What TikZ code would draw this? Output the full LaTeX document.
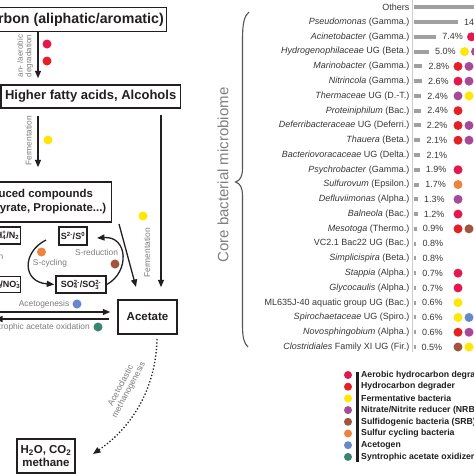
\documentclass[tikz,border=0pt]{standalone}
\usepackage{fontspec}
\setmainfont{Liberation Sans}
\usetikzlibrary{arrows.meta}
\definecolor{aero}{RGB}{226,24,78}
\definecolor{hcd}{RGB}{226,32,38}
\definecolor{ferm}{RGB}{255,232,0}
\definecolor{nrb}{RGB}{168,72,152}
\definecolor{srb}{RGB}{160,86,62}
\definecolor{sulf}{RGB}{236,132,62}
\definecolor{aceto}{RGB}{104,136,204}
\definecolor{synt}{RGB}{58,132,112}
\definecolor{lbl}{RGB}{125,125,125}
\definecolor{ink}{RGB}{35,31,32}
\definecolor{barc}{RGB}{160,160,160}
\definecolor{rowc}{RGB}{55,55,55}
\definecolor{legc}{RGB}{30,30,30}
\definecolor{corec}{RGB}{128,128,128}
\definecolor{bracec}{RGB}{85,85,85}
\definecolor{axisc}{RGB}{205,205,205}
\newcommand{\mysubsup}[2]{\rlap{\textsubscript{#1}}\textsuperscript{#2}}
\begin{document}
\begin{tikzpicture}[x=1pt,y=-1pt,
  box/.style={draw=ink, line width=1.5pt, fill=white, text=ink, inner ysep=0pt},
  arr/.style={draw=ink, line width=1.3pt, -{Triangle[length=7.5pt,width=6pt]}},
  glbl/.style={text=lbl, inner sep=0pt, font=\fontsize{8.4}{9}\selectfont},
  dot/.style={circle, inner sep=0pt, minimum size=9pt},
  ldot/.style={circle, inner sep=0pt, minimum size=8pt},
  rowlbl/.style={text=rowc, inner sep=0pt, font=\fontsize{9}{10}\selectfont},
  legl/.style={text=legc, inner sep=0pt, anchor=west, font=\bfseries\fontsize{8.7}{10}\selectfont}]
\useasboundingbox (0,0) rectangle (474,474);
\clip (0,0) rectangle (474,474);
\fill[white] (0,0) rectangle (474,474);
% helper coordinates
\coordinate (c38) at (38,0);
\coordinate (c161) at (161,0);
% boxes
\node[box, anchor=east, minimum height=24pt, inner xsep=2.5pt, font=\bfseries\fontsize{14.2}{16}\selectfont] (hc) at (167,19.5) {Hydrocarbon (aliphatic/aromatic)};
\node[box, anchor=east, minimum height=23pt, inner xsep=4pt, font=\bfseries\fontsize{13}{15}\selectfont] (hfa) at (181,96.5) {Higher fatty acids, Alcohols};
\node[box, anchor=east, minimum height=40pt, inner xsep=5pt, align=left, font=\bfseries\fontsize{11.4}{14}\selectfont] (rc) at (112,202) {Reduced compounds\\(Butyrate, Propionate...)};
\node[box, anchor=east, minimum height=17pt, inner xsep=1pt, font=\bfseries\fontsize{9}{10}\selectfont] (nh) at (21,235.5) {NH\mysubsup{4}{+}/N\textsubscript{2}};
\node[box, anchor=east, minimum height=16pt, inner xsep=1.5pt, font=\bfseries\fontsize{9}{10}\selectfont] (no) at (21,284.5) {NO\mysubsup{2}{-}/NO\mysubsup{3}{-}};
\node[box, minimum width=28pt, minimum height=18pt, inner xsep=1pt, font=\bfseries\fontsize{9}{10}\selectfont] (sb) at (73,236) {S\textsuperscript{2-}/S\textsuperscript{0}};
\node[box, minimum width=50pt, minimum height=17pt, inner xsep=1pt, font=\bfseries\fontsize{9}{10}\selectfont] (so) at (81,284.5) {SO\mysubsup{4}{2-}/SO\mysubsup{3}{2-}};
\node[box, minimum width=59pt, minimum height=34pt, font=\bfseries\fontsize{11.5}{13}\selectfont] (ac) at (147.5,317) {Acetate};
\node[box, minimum width=58pt, minimum height=34pt, align=center, font=\bfseries\fontsize{11.5}{13}\selectfont] (me) at (46,456) {H\textsubscript{2}O, CO\textsubscript{2}\\methane};
% arrows
\draw[arr, shorten >=6pt] (hc.south -| c38) -- (hfa.north -| c38);
\draw[arr, shorten <=7pt, shorten >=14pt] (hfa.south -| c38) -- (rc.north -| c38);
\draw[arr, shorten <=6pt, shorten >=12pt] (hfa.south -| c161) -- (ac.north -| c161);
\coordinate (f2s) at (119,224);
\coordinate (f2e) at (136,287);
\draw[arr] (f2s) -- (f2e);
\coordinate (scs) at (46,240);
\draw[arr, shorten >=1pt] (scs) .. controls (22,252) and (22,282) .. (so.west);
\coordinate (sre) at (97,238);
\draw[arr] (so.east) .. controls (130,272) and (128,236) .. (sre);
\coordinate (agl) at (-5,312);
\draw[arr, shorten >=7pt] (agl) -- ([yshift=5pt]ac.west);
\coordinate (sal) at (-5,319);
\draw[arr, shorten <=8pt] ([yshift=-2pt]ac.west) -- (sal);
\coordinate (dts) at (157,339);
\coordinate (dte) at (93,454);
\draw[ink, line width=1.3pt, dotted, -{Triangle[length=7.5pt,width=6pt]}] (dts) .. controls (156,385) and (135,425) .. (dte);
% labels
\node[glbl, rotate=90, align=center, font=\fontsize{8}{8.5}\selectfont] (lad) at (25,56) {an- /aerobic\\degradation};
\node[glbl, rotate=90] (lf1) at (28.5,141) {Fermentation};
\node[glbl, rotate=90] (lf2) at (147,253) {Fermentation};
\node[glbl, anchor=east] (lnr) at (3.5,256) {N-reduction};
\node[glbl] (lsc) at (50,263) {S-cycling};
\node[glbl] (lsr) at (96.5,252) {S-reduction};
\node[glbl] (lag) at (44,304) {Acetogenesis};
\node[glbl, anchor=east] (lsa) at (90,327) {Syntrophic acetate oxidation};
\node[glbl, rotate=62, align=center] (lam) at (125,388) {Acetoclastic\\methanogenesis};
% pathway dots
\node[dot, fill=aero] (d1) at (47,44) {};
\node[dot, fill=hcd] (d2) at (47,61) {};
\node[dot, fill=ferm] (d3) at (48,140) {};
\node[dot, fill=ferm] (d4) at (143,216) {};
\node[dot, fill=sulf] (d5) at (41.5,252) {};
\node[dot, fill=srb] (d6) at (115,264) {};
\node[dot, fill=aceto] (d7) at (77,304) {};
\node[dot, fill=synt] (d8) at (98,327) {};
% right panel
\node[text=corec, rotate=90, inner sep=0pt, font=\fontsize{15}{16}\selectfont] (core) at (223,175) {Core bacterial microbiome};
\draw[bracec, line width=1.1pt] (249,12) .. controls (244,16) and (242.5,24) .. (242.5,40) -- (242.5,168) .. controls (242.5,177) and (240,180.5) .. (235.5,182) .. controls (240,183.5) and (242.5,187) .. (242.5,196) -- (242.5,325) .. controls (242.5,338) and (244,343) .. (248,347);
\draw[axisc, line width=0.8pt] (412.5,0) -- (412.5,352);
\node[rowlbl, anchor=east] (lab0) at (409.5,7.3) {Others};
\fill[barc] (414,5.3) rectangle (480,9.3);
\foreach \i/\nm/\p in {
 1/{\textit{Pseudomonas} (Gamma.)}/14.6,
 2/{\textit{Acinetobacter} (Gamma.)}/7.4,
 3/{\textit{Hydrogenophilaceae} UG (Beta.)}/5.0,
 4/{\textit{Marinobacter} (Gamma.)}/2.8,
 5/{\textit{Nitrincola} (Gamma.)}/2.6,
 6/{\textit{Thermaceae} UG (D.-T.)}/2.4,
 7/{\textit{Proteiniphilum} (Bac.)}/2.4,
 8/{\textit{Deferribacteraceae} UG (Deferri.)}/2.2,
 9/{\textit{Thauera} (Beta.)}/2.1,
 10/{\textit{Bacteriovoracaceae} UG (Delta.)}/2.1,
 11/{\textit{Psychrobacter} (Gamma.)}/1.9,
 12/{\textit{Sulfurovum} (Epsilon.)}/1.7,
 13/{\textit{Defluviimonas} (Alpha.)}/1.3,
 14/{\textit{Balneola} (Bac.)}/1.2,
 15/{\textit{Mesotoga} (Thermo.)}/0.9,
 16/{VC2.1 Bac22 UG (Bac.)}/0.8,
 17/{\textit{Simplicispira} (Beta.)}/0.8,
 18/{\textit{Stappia} (Alpha.)}/0.7,
 19/{\textit{Glycocaulis} (Alpha.)}/0.7,
 20/{ML635J-40 aquatic group UG (Bac.)}/0.6,
 21/{\textit{Spirochaetaceae} UG (Spiro.)}/0.6,
 22/{\textit{Novosphingobium} (Alpha.)}/0.6,
 23/{\textit{Clostridiales} Family XI UG (Fir.)}/0.5}{
  \pgfmathsetmacro\yy{7.3+14.77*\i}
  \pgfmathsetmacro\xe{414+3*\p}
  \node[rowlbl, anchor=east] (lab\i) at (409.5,\yy) {\nm};
  \fill[barc] (414,{\yy-2}) rectangle (\xe,{\yy+2});
  \node[rowlbl, anchor=west] (pc\i) at ({\xe+6},\yy) {\p\%};
}
\foreach \i/\x/\c [count=\j] in {2/471.5/aero, 3/464.5/ferm, 3/475.5/nrb, 4/458/hcd, 4/469/nrb, 5/458/aero, 5/469/nrb, 6/458/nrb, 6/469/ferm, 7/458/hcd, 8/458/hcd, 8/469/nrb, 9/458/hcd, 9/469/nrb, 11/458/aero, 12/458/sulf, 13/458/nrb, 14/458/aero, 15/458/hcd, 15/469/srb, 18/458/aero, 19/458/aero, 20/458/ferm, 21/458/ferm, 21/469/aceto, 22/458/hcd, 22/469/nrb, 23/458/srb, 23/469/ferm}{
  \node[dot, fill=\c] (rd\j) at (\x,{7.3+14.77*\i}) {};
}
% legend
\fill[legc] (355.5,372) rectangle (358.5,462);
\foreach \c/\t [count=\k from 0] in {aero/Aerobic hydrocarbon degrader, hcd/Hydrocarbon degrader, ferm/Fermentative bacteria, nrb/{Nitrate/Nitrite reducer (NRB)}, srb/Sulfidogenic bacteria (SRB), sulf/Sulfur cycling bacteria, aceto/Acetogen, synt/Syntrophic acetate oxidizer}{
  \node[ldot, fill=\c] (lg\k) at (348,{375+11.7*\k}) {};
  \node[legl] (lt\k) at (361,{375+11.7*\k}) {\t};
}
\end{tikzpicture}
\end{document}
